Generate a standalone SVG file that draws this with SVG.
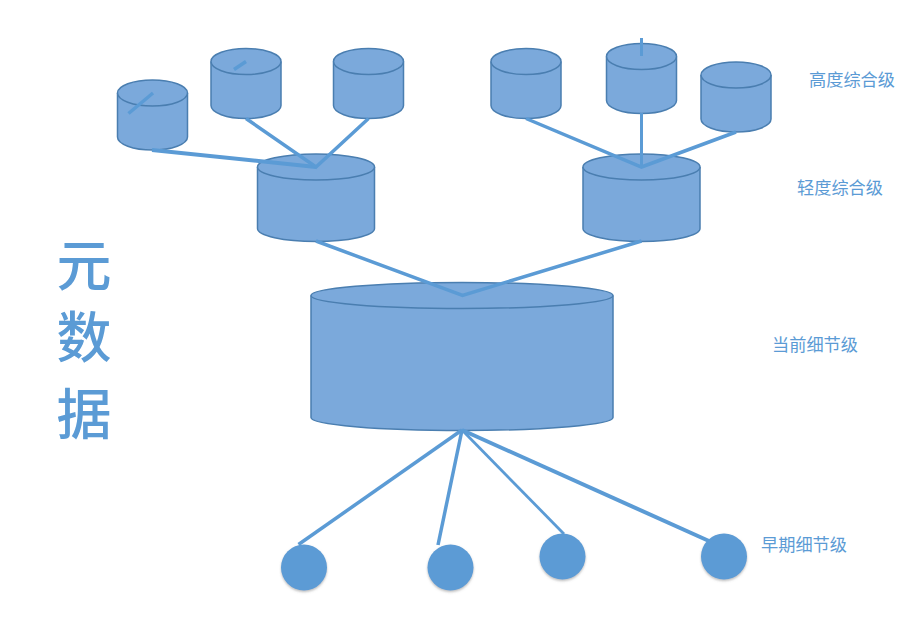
<svg xmlns="http://www.w3.org/2000/svg" width="916" height="626" viewBox="0 0 916 626">
<defs>
<style>
.cyl{fill:#7ba9db;stroke:#4a7eb0;stroke-width:1.5}
.dot{fill:#5b9bd5;filter:url(#sh)}
.ln{stroke:#5b9bd5;fill:none;stroke-linecap:butt}
text{font-family:"Noto Sans CJK SC","Liberation Sans",sans-serif;fill:#5b9bd5}
.lab{font-size:17.200px}
.big{font-size:55px;font-weight:500}
</style>
<filter id="sh" x="-20%" y="-20%" width="140%" height="150%"><feDropShadow dx="0" dy="1.5" stdDeviation="1.200" flood-color="#777" flood-opacity="0.5"/></filter>
</defs>
<rect width="916" height="626" fill="#fff"/>
<g id="cyl-a"><path class="cyl" d="M117.500 93V137A35 13 0 0 0 187.500 137V93"/><ellipse class="cyl" cx="152.500" cy="93" rx="35" ry="13"/></g>
<g id="cyl-b"><path class="cyl" d="M211 61.500V105.500A35 13 0 0 0 281 105.500V61.500"/><ellipse class="cyl" cx="246" cy="61.500" rx="35" ry="13"/></g>
<g id="cyl-c"><path class="cyl" d="M333.500 61.500V105.500A35 13 0 0 0 403.500 105.500V61.500"/><ellipse class="cyl" cx="368.500" cy="61.500" rx="35" ry="13"/></g>
<g id="cyl-d"><path class="cyl" d="M491 61.500V105.500A35 13 0 0 0 561 105.500V61.500"/><ellipse class="cyl" cx="526" cy="61.500" rx="35" ry="13"/></g>
<g id="cyl-e"><path class="cyl" d="M606.500 56.500V100.500A35 13 0 0 0 676.500 100.500V56.500"/><ellipse class="cyl" cx="641.500" cy="56.500" rx="35" ry="13"/></g>
<g id="cyl-f"><path class="cyl" d="M701 75V119A35 13 0 0 0 771 119V75"/><ellipse class="cyl" cx="736" cy="75" rx="35" ry="13"/></g>
<g id="cyl-g"><path class="cyl" d="M257.500 167V228.500A58.500 13 0 0 0 374.500 228.500V167"/><ellipse class="cyl" cx="316" cy="167" rx="58.500" ry="13"/></g>
<g id="cyl-h"><path class="cyl" d="M583 167V228.500A58.500 13 0 0 0 700 228.500V167"/><ellipse class="cyl" cx="641.500" cy="167" rx="58.500" ry="13"/></g>
<g id="cyl-i"><path class="cyl" d="M311 295.500V417.500A151 13 0 0 0 613 417.500V295.500"/><ellipse class="cyl" cx="462" cy="295.500" rx="151" ry="13"/></g>
<g id="dot-a"><circle class="dot" cx="304" cy="567.500" r="23"/></g>
<g id="dot-b"><circle class="dot" cx="450.500" cy="567.500" r="23"/></g>
<g id="dot-c"><circle class="dot" cx="562.500" cy="556.500" r="23"/></g>
<g id="dot-d"><circle class="dot" cx="724" cy="556.500" r="23"/></g>
<g id="connectors">
<path class="ln" stroke-width="3.500" d="M128.500 113.500L153 93"/>
<path class="ln" stroke-width="3.500" d="M234 69.500L246 61.500"/>
<path class="ln" stroke-width="3" d="M641.500 38V56"/>
<path class="ln" stroke-width="4" d="M152 150L316 167"/>
<path class="ln" stroke-width="3.500" d="M246 118.500L316 167L368.500 118.500"/>
<path class="ln" stroke-width="3.500" d="M526 118.500L641.500 167L736 132"/>
<path class="ln" stroke-width="3" d="M641.500 113V167"/>
<path class="ln" stroke-width="3.500" d="M316 241L462.500 295.500L641.500 241"/>
<path class="ln" stroke-width="3.500" d="M462 430L298.500 544.500"/>
<path class="ln" stroke-width="3.500" d="M462 430L438 545"/>
<path class="ln" stroke-width="2.800" d="M462 430L564 534"/>
<path class="ln" stroke-width="4" d="M462 430L709 541"/>
</g>
<text class="lab" x="809" y="85.500">高度综合级</text>
<text class="lab" x="797" y="193.500">轻度综合级</text>
<text class="lab" x="772" y="351">当前细节级</text>
<text class="lab" x="761" y="550.500">早期细节级</text>
<text class="big" x="56.500" y="285">元</text>
<text class="big" x="56.500" y="357">数</text>
<text class="big" x="56.500" y="434">据</text>
</svg>
